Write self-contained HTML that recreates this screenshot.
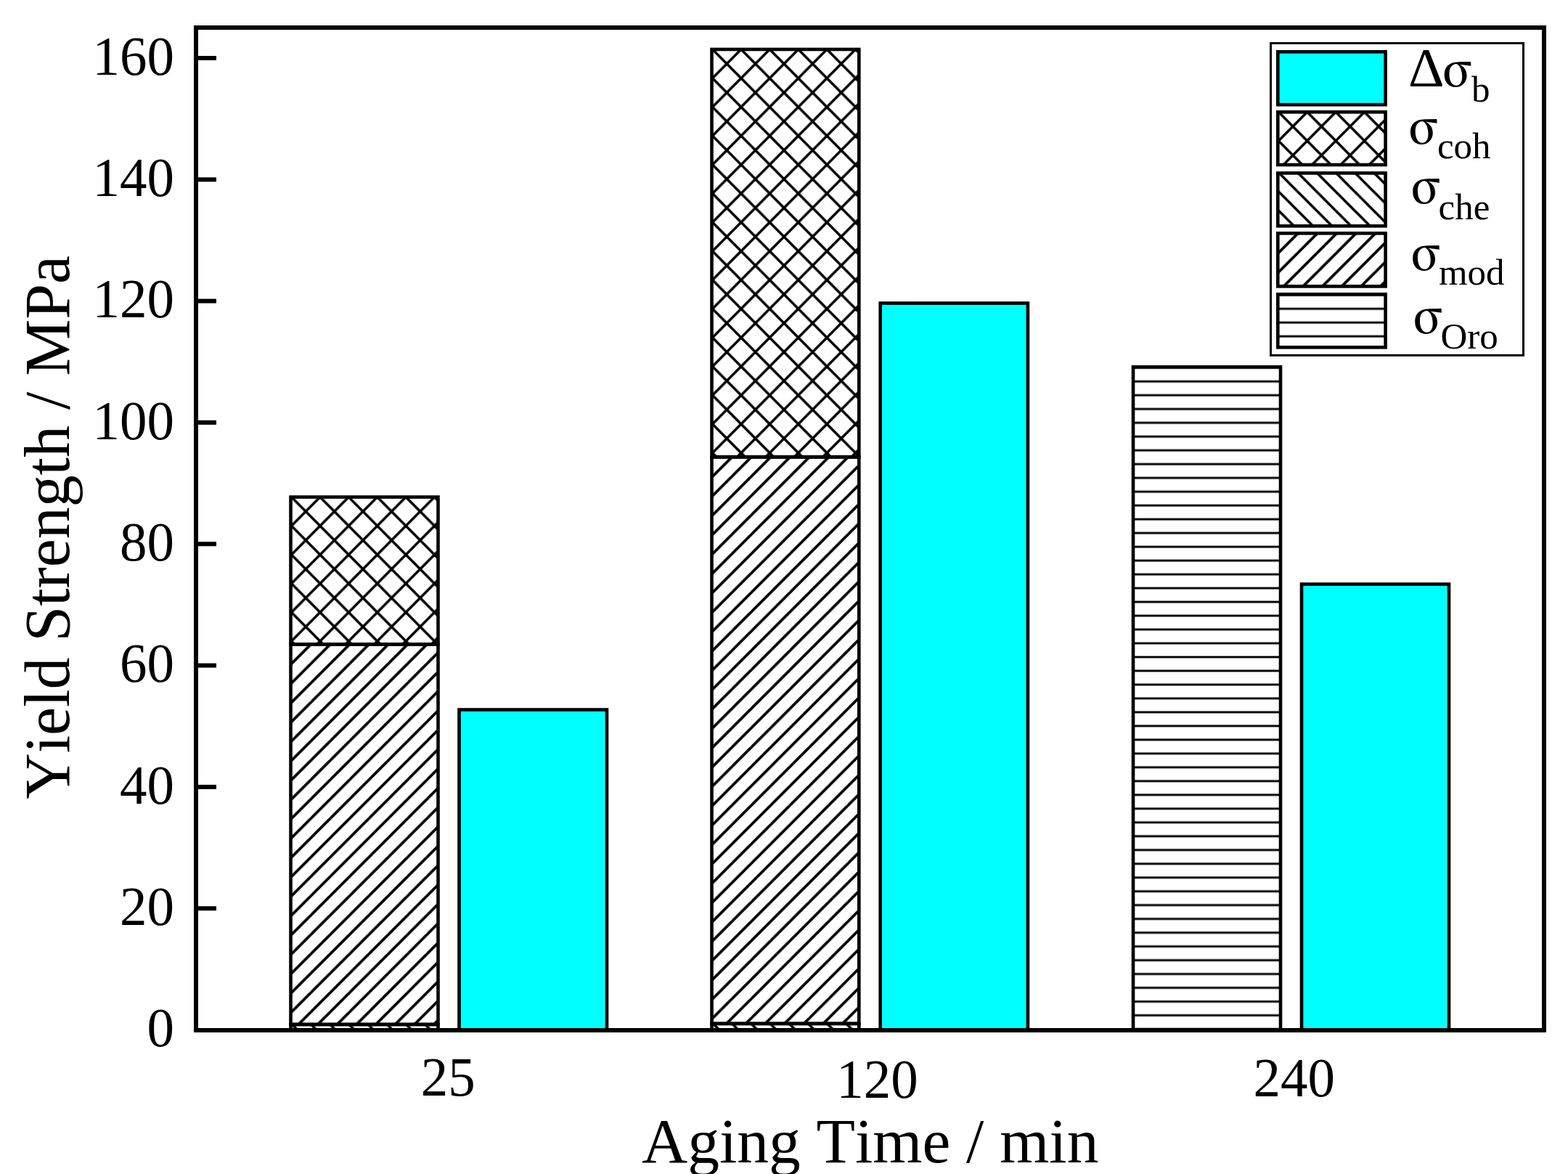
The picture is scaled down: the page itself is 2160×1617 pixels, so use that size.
<!DOCTYPE html>
<html><head><meta charset="utf-8"><title>Yield Strength vs Aging Time</title>
<style>
html,body{margin:0;padding:0;background:#fff;}
body{width:2160px;height:1617px;overflow:hidden;}
svg{display:block;}
text{font-family:"Liberation Serif","Times New Roman",serif;fill:#000;font-kerning:none;font-feature-settings:"kern" 0;}
text.g{font-family:"Noto Serif CJK SC","Liberation Serif",serif;font-weight:600;}
</style></head>
<body>
<svg width="2160" height="1617" viewBox="0 0 2160 1617">
<defs>
<pattern id="che1" patternUnits="userSpaceOnUse" x="402.25" y="1411.00" width="26.2" height="26.2"><g stroke="#000" stroke-width="3.5" stroke-linecap="square"><line x1="-52.40" y1="-26.20" x2="0.00" y2="26.20"/><line x1="-26.20" y1="-26.20" x2="26.20" y2="26.20"/><line x1="0.00" y1="-26.20" x2="52.40" y2="26.20"/></g></pattern>
<pattern id="mod1" patternUnits="userSpaceOnUse" x="401.70" y="887.40" width="26.65" height="26.65"><g stroke="#000" stroke-width="3.5" stroke-linecap="square"><line x1="-53.30" y1="26.65" x2="0.00" y2="-26.65"/><line x1="-26.65" y1="26.65" x2="0.00" y2="0.00"/><line x1="-26.65" y1="26.65" x2="26.65" y2="-26.65"/><line x1="0.00" y1="26.65" x2="26.65" y2="0.00"/><line x1="0.00" y1="26.65" x2="53.30" y2="-26.65"/><line x1="26.65" y1="26.65" x2="53.30" y2="0.00"/></g></pattern>
<pattern id="coh1" patternUnits="userSpaceOnUse" x="401.50" y="684.60" width="39.4" height="39.7"><g stroke="#000" stroke-width="3.5"><line x1="-78.80" y1="-39.70" x2="39.40" y2="79.40"/><line x1="39.40" y1="-39.70" x2="-78.80" y2="79.40"/><line x1="-39.40" y1="-39.70" x2="78.80" y2="79.40"/><line x1="78.80" y1="-39.70" x2="-39.40" y2="79.40"/><line x1="0.00" y1="-39.70" x2="118.20" y2="79.40"/><line x1="118.20" y1="-39.70" x2="0.00" y2="79.40"/></g></pattern>
<pattern id="che2" patternUnits="userSpaceOnUse" x="982.25" y="1409.90" width="26.2" height="26.2"><g stroke="#000" stroke-width="3.5" stroke-linecap="square"><line x1="-52.40" y1="-26.20" x2="0.00" y2="26.20"/><line x1="-26.20" y1="-26.20" x2="26.20" y2="26.20"/><line x1="0.00" y1="-26.20" x2="52.40" y2="26.20"/></g></pattern>
<pattern id="mod2" patternUnits="userSpaceOnUse" x="981.70" y="629.50" width="26.65" height="26.65"><g stroke="#000" stroke-width="3.5" stroke-linecap="square"><line x1="-53.30" y1="26.65" x2="0.00" y2="-26.65"/><line x1="-26.65" y1="26.65" x2="0.00" y2="0.00"/><line x1="-26.65" y1="26.65" x2="26.65" y2="-26.65"/><line x1="0.00" y1="26.65" x2="26.65" y2="0.00"/><line x1="0.00" y1="26.65" x2="53.30" y2="-26.65"/><line x1="26.65" y1="26.65" x2="53.30" y2="0.00"/></g></pattern>
<pattern id="coh2" patternUnits="userSpaceOnUse" x="981.50" y="68.00" width="39.4" height="39.7"><g stroke="#000" stroke-width="3.5"><line x1="-78.80" y1="-39.70" x2="39.40" y2="79.40"/><line x1="39.40" y1="-39.70" x2="-78.80" y2="79.40"/><line x1="-39.40" y1="-39.70" x2="78.80" y2="79.40"/><line x1="78.80" y1="-39.70" x2="-39.40" y2="79.40"/><line x1="0.00" y1="-39.70" x2="118.20" y2="79.40"/><line x1="118.20" y1="-39.70" x2="0.00" y2="79.40"/></g></pattern>
<pattern id="oro3" patternUnits="userSpaceOnUse" x="1561.00" y="506.42" width="40" height="18.98"><rect x="0" y="-1.45" width="40" height="2.9" fill="#000"/><rect x="0" y="17.53" width="40" height="2.9" fill="#000"/></pattern>
<pattern id="lcoh" patternUnits="userSpaceOnUse" x="1761.30" y="154.30" width="39.4" height="39.7"><g stroke="#000" stroke-width="3.5"><line x1="-78.80" y1="-39.70" x2="39.40" y2="79.40"/><line x1="39.40" y1="-39.70" x2="-78.80" y2="79.40"/><line x1="-39.40" y1="-39.70" x2="78.80" y2="79.40"/><line x1="78.80" y1="-39.70" x2="-39.40" y2="79.40"/><line x1="0.00" y1="-39.70" x2="118.20" y2="79.40"/><line x1="118.20" y1="-39.70" x2="0.00" y2="79.40"/></g></pattern>
<pattern id="lche" patternUnits="userSpaceOnUse" x="1762.05" y="238.40" width="26.2" height="26.2"><g stroke="#000" stroke-width="3.5" stroke-linecap="square"><line x1="-52.40" y1="-26.20" x2="0.00" y2="26.20"/><line x1="-26.20" y1="-26.20" x2="26.20" y2="26.20"/><line x1="0.00" y1="-26.20" x2="52.40" y2="26.20"/></g></pattern>
<pattern id="lmod" patternUnits="userSpaceOnUse" x="1761.50" y="321.30" width="26.65" height="26.65"><g stroke="#000" stroke-width="3.5" stroke-linecap="square"><line x1="-53.30" y1="26.65" x2="0.00" y2="-26.65"/><line x1="-26.65" y1="26.65" x2="0.00" y2="0.00"/><line x1="-26.65" y1="26.65" x2="26.65" y2="-26.65"/><line x1="0.00" y1="26.65" x2="26.65" y2="0.00"/><line x1="0.00" y1="26.65" x2="53.30" y2="-26.65"/><line x1="26.65" y1="26.65" x2="53.30" y2="0.00"/></g></pattern>
<pattern id="loro" patternUnits="userSpaceOnUse" x="1760.30" y="406.32" width="40" height="18.98"><rect x="0" y="-1.45" width="40" height="2.9" fill="#000"/><rect x="0" y="17.53" width="40" height="2.9" fill="#000"/></pattern>
</defs>
<rect x="0" y="0" width="2160" height="1617" fill="#fff"/>
<rect x="400.50" y="1411.00" width="203.00" height="8.00" fill="url(#che1)" stroke="#000" stroke-width="4.6"/>
<rect x="400.50" y="887.40" width="203.00" height="523.60" fill="url(#mod1)" stroke="#000" stroke-width="4.6"/>
<rect x="400.50" y="684.60" width="203.00" height="202.80" fill="url(#coh1)" stroke="#000" stroke-width="4.6"/>
<rect x="632.50" y="977.50" width="203.50" height="441.50" fill="#00ffff" stroke="#000" stroke-width="4.6"/>
<rect x="980.50" y="1409.90" width="202.80" height="9.10" fill="url(#che2)" stroke="#000" stroke-width="4.6"/>
<rect x="980.50" y="629.50" width="202.80" height="780.40" fill="url(#mod2)" stroke="#000" stroke-width="4.6"/>
<rect x="980.50" y="68.00" width="202.80" height="561.50" fill="url(#coh2)" stroke="#000" stroke-width="4.6"/>
<rect x="1212.70" y="417.60" width="203.20" height="1001.40" fill="#00ffff" stroke="#000" stroke-width="4.6"/>
<rect x="1561.00" y="505.40" width="203.00" height="913.60" fill="url(#oro3)" stroke="#000" stroke-width="4.6"/>
<rect x="1793.00" y="804.60" width="203.00" height="614.40" fill="#00ffff" stroke="#000" stroke-width="4.6"/>
<rect x="270" y="38" width="1857" height="1381" fill="none" stroke="#000" stroke-width="6"/>
<rect x="270" y="1248.19" width="28" height="6" fill="#000"/>
<rect x="270" y="1080.88" width="28" height="6" fill="#000"/>
<rect x="270" y="913.56" width="28" height="6" fill="#000"/>
<rect x="270" y="746.25" width="28" height="6" fill="#000"/>
<rect x="270" y="578.94" width="28" height="6" fill="#000"/>
<rect x="270" y="411.62" width="28" height="6" fill="#000"/>
<rect x="270" y="244.31" width="28" height="6" fill="#000"/>
<rect x="270" y="77.00" width="28" height="6" fill="#000"/>
<rect x="1750.5" y="59.5" width="348" height="429.9" fill="#fff" stroke="#000" stroke-width="3"/>
<rect x="1760.30" y="71.30" width="148.30" height="72.90" fill="#00ffff" stroke="#000" stroke-width="4.6"/>
<rect x="1760.30" y="154.30" width="148.30" height="72.70" fill="url(#lcoh)" stroke="#000" stroke-width="4.6"/>
<rect x="1760.30" y="238.40" width="148.30" height="72.90" fill="url(#lche)" stroke="#000" stroke-width="4.6"/>
<rect x="1760.30" y="321.30" width="148.30" height="73.10" fill="url(#lmod)" stroke="#000" stroke-width="4.6"/>
<rect x="1760.30" y="405.30" width="148.30" height="73.10" fill="url(#loro)" stroke="#000" stroke-width="4.6"/>
<text x="1939.90" y="119.00" font-size="77" text-anchor="start" >&#916;</text>
<text x="1987.12" y="118.86" font-size="62" class="g">&#963;</text>
<text x="2026.90" y="140.40" font-size="51" text-anchor="start" >b</text>
<text x="1940.32" y="197.66" font-size="62" class="g">&#963;</text>
<text x="1979.90" y="217.80" font-size="51" text-anchor="start" >coh</text>
<text x="1943.42" y="279.66" font-size="62" class="g">&#963;</text>
<text x="1981.60" y="302.10" font-size="51" text-anchor="start" >che</text>
<text x="1943.42" y="371.96" font-size="62" class="g">&#963;</text>
<text x="1981.90" y="392.30" font-size="51" text-anchor="start" >mod</text>
<text x="1946.42" y="458.76" font-size="62" class="g">&#963;</text>
<text x="1984.40" y="479.90" font-size="51" text-anchor="start" >Oro</text>
<text transform="translate(239.90 1441.30) scale(1 1.025)" font-size="75" text-anchor="end">0</text>
<text transform="translate(239.90 1273.99) scale(1 1.025)" font-size="75" text-anchor="end">20</text>
<text transform="translate(239.90 1106.67) scale(1 1.025)" font-size="75" text-anchor="end">40</text>
<text transform="translate(239.90 939.36) scale(1 1.025)" font-size="75" text-anchor="end">60</text>
<text transform="translate(239.90 772.05) scale(1 1.025)" font-size="75" text-anchor="end">80</text>
<text transform="translate(239.90 604.74) scale(1 1.025)" font-size="75" text-anchor="end">100</text>
<text transform="translate(239.90 437.43) scale(1 1.025)" font-size="75" text-anchor="end">120</text>
<text transform="translate(239.90 270.11) scale(1 1.025)" font-size="75" text-anchor="end">140</text>
<text transform="translate(239.90 102.80) scale(1 1.025)" font-size="75" text-anchor="end">160</text>
<text transform="translate(617.30 1508.90) scale(1 1.025)" font-size="75" text-anchor="middle">25</text>
<text transform="translate(1208.50 1511.90) scale(1 1.025)" font-size="75" text-anchor="middle">120</text>
<text transform="translate(1782.80 1509.70) scale(1 1.025)" font-size="75" text-anchor="middle">240</text>
<text x="883.94" y="1601.10" font-size="87.5" text-anchor="start" >Aging Time / min</text>
<text transform="translate(94.8 1100.68) rotate(-90)" x="0" y="0" font-size="87.8">Yield Strength / MPa</text>
</svg>
</body></html>
